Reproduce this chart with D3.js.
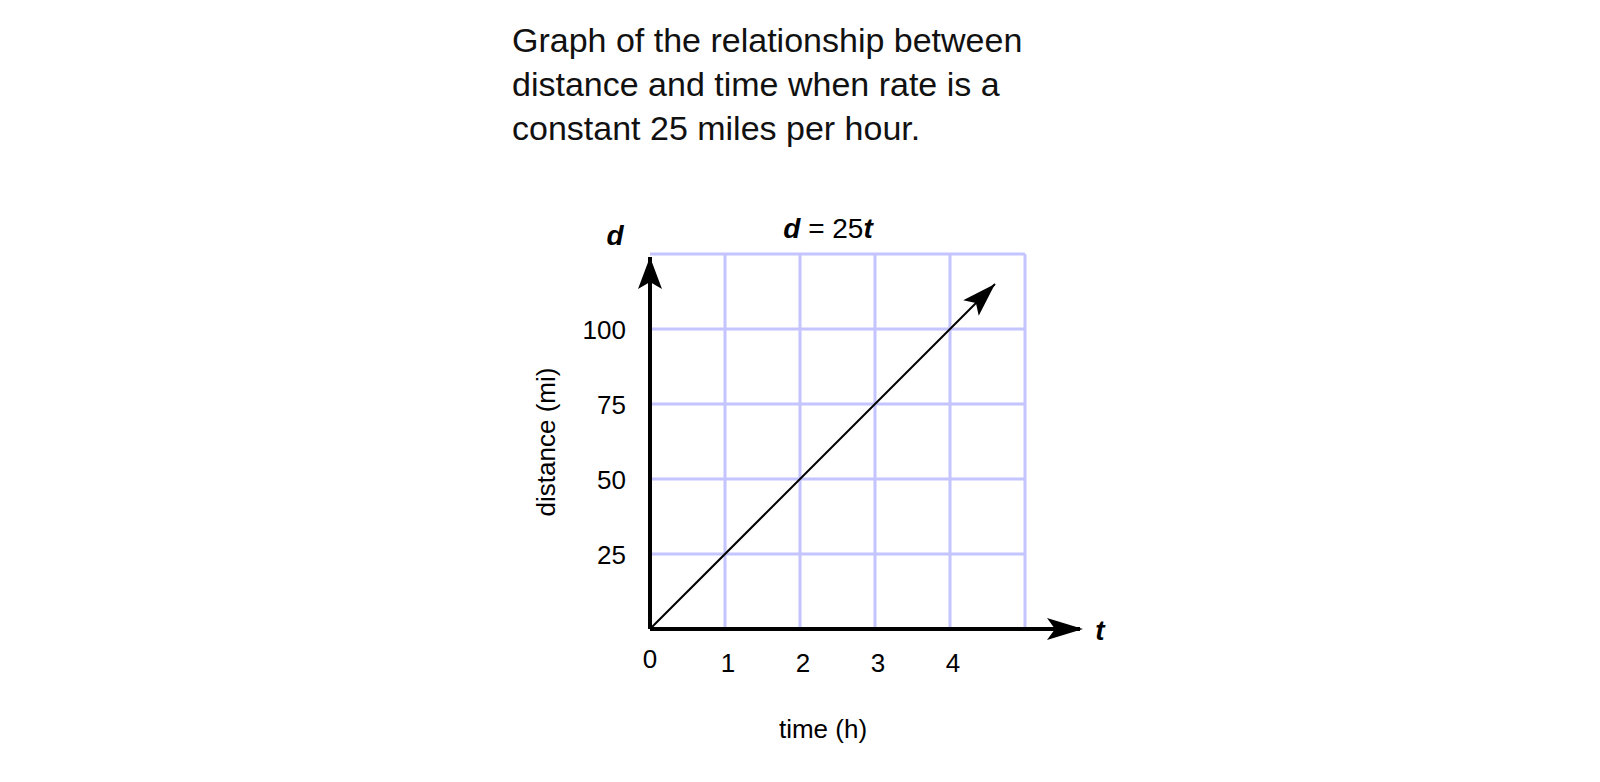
<!DOCTYPE html>
<meta charset="utf-8">
<style>
  body { margin: 0; background: #fff; font-family: 'Liberation Sans', Arial, sans-serif; }
</style>
<body>
<svg id="chart" width="1600" height="782"></svg>
<script src="https://cdn.jsdelivr.net/npm/d3@7"></script>
<script>
// data
var titleLines = ["Graph of the relationship between", "distance and time when rate is a", "constant 25 miles per hour."];
var tTicks = [1, 2, 3, 4];
var dTicks = [25, 50, 75, 100];
var gridT = [0, 1, 2, 3, 4, 5];
var gridD = [0, 25, 50, 75, 100, 125];
var linePts = [[0, 0], [4.6, 115]];

var svg = d3.select("#chart");

svg.selectAll("text.title").data(titleLines).enter().append("text")
  .attr("x", 512).attr("y", function (d, i) { return 52 + i * 44; })
  .style("font-size", "34px").attr("fill", "#111").text(function (d) { return d; });

var x = d3.scaleLinear().domain([0, 5]).range([650, 1025]);
var y = d3.scaleLinear().domain([0, 125]).range([629, 254]);

// grid
svg.selectAll("line.gv").data(gridT.slice(1)).enter().append("line")
  .attr("x1", x).attr("x2", x).attr("y1", y(0)).attr("y2", y(125))
  .attr("stroke", "#c4c4ff").attr("stroke-width", 3);
svg.selectAll("line.gh").data(gridD.slice(1)).enter().append("line")
  .attr("y1", y).attr("y2", y).attr("x1", x(0)).attr("x2", x(5))
  .attr("stroke", "#c4c4ff").attr("stroke-width", 3);

// axes
svg.append("line").attr("x1", x(0)).attr("y1", y(0)).attr("x2", x(0)).attr("y2", 257)
  .attr("stroke", "#000").attr("stroke-width", 4);
svg.append("path").attr("d", "M" + x(0) + ",257 l-12,32 l12,-7 l12,7 Z").attr("fill", "#000");
svg.append("line").attr("x1", x(0)).attr("y1", y(0)).attr("x2", 1080).attr("y2", y(0))
  .attr("stroke", "#000").attr("stroke-width", 4);
svg.append("path").attr("d", "M1083," + y(0) + " l-36,-11 l8,11 l-8,11 Z").attr("fill", "#000");

// line d = 25t
svg.append("line").attr("x1", x(linePts[0][0])).attr("y1", y(linePts[0][1]))
  .attr("x2", x(linePts[1][0])).attr("y2", y(linePts[1][1]))
  .attr("stroke", "#000").attr("stroke-width", 2);
var a = Math.atan2(y(linePts[1][1]) - y(0), x(linePts[1][0]) - x(0)) * 180 / Math.PI;
svg.append("path").attr("d", "M0,0 l-34,-11 l7,11 l-7,11 Z").attr("fill", "#000")
  .attr("transform", "translate(" + x(linePts[1][0]) + "," + y(linePts[1][1]) + ") rotate(" + a + ")");

// tick labels
var fs = "26px";
svg.selectAll("text.tt").data(tTicks).enter().append("text")
  .attr("x", function (d) { return x(d) + 3; }).attr("y", 672).attr("text-anchor", "middle")
  .style("font-size", fs).text(function (d) { return d; });
svg.append("text").attr("x", 650).attr("y", 668).attr("text-anchor", "middle").style("font-size", fs).text("0");
svg.selectAll("text.dt").data(dTicks).enter().append("text")
  .attr("x", 626).attr("y", function (d) { return y(d) + 10; }).attr("text-anchor", "end")
  .style("font-size", fs).text(function (d) { return d; });

// labels
svg.append("text").attr("x", 823).attr("y", 738).attr("text-anchor", "middle")
  .style("font-size", fs).text("time (h)");
svg.append("text").attr("transform", "translate(555,442) rotate(-90)").attr("text-anchor", "middle")
  .style("font-size", fs).text("distance (mi)");
svg.append("text").attr("x", 615).attr("y", 245).attr("text-anchor", "middle")
  .style("font-size", "28px").style("font-weight", "bold").style("font-style", "italic").text("d");
svg.append("text").attr("x", 1100).attr("y", 640).attr("text-anchor", "middle")
  .style("font-size", "28px").style("font-weight", "bold").style("font-style", "italic").text("t");
var eq = svg.append("text").attr("x", 828).attr("y", 238).attr("text-anchor", "middle").style("font-size", "28px");
eq.append("tspan").style("font-weight", "bold").style("font-style", "italic").text("d");
eq.append("tspan").text(" = 25");
eq.append("tspan").style("font-weight", "bold").style("font-style", "italic").text("t");
</script>
</body>
